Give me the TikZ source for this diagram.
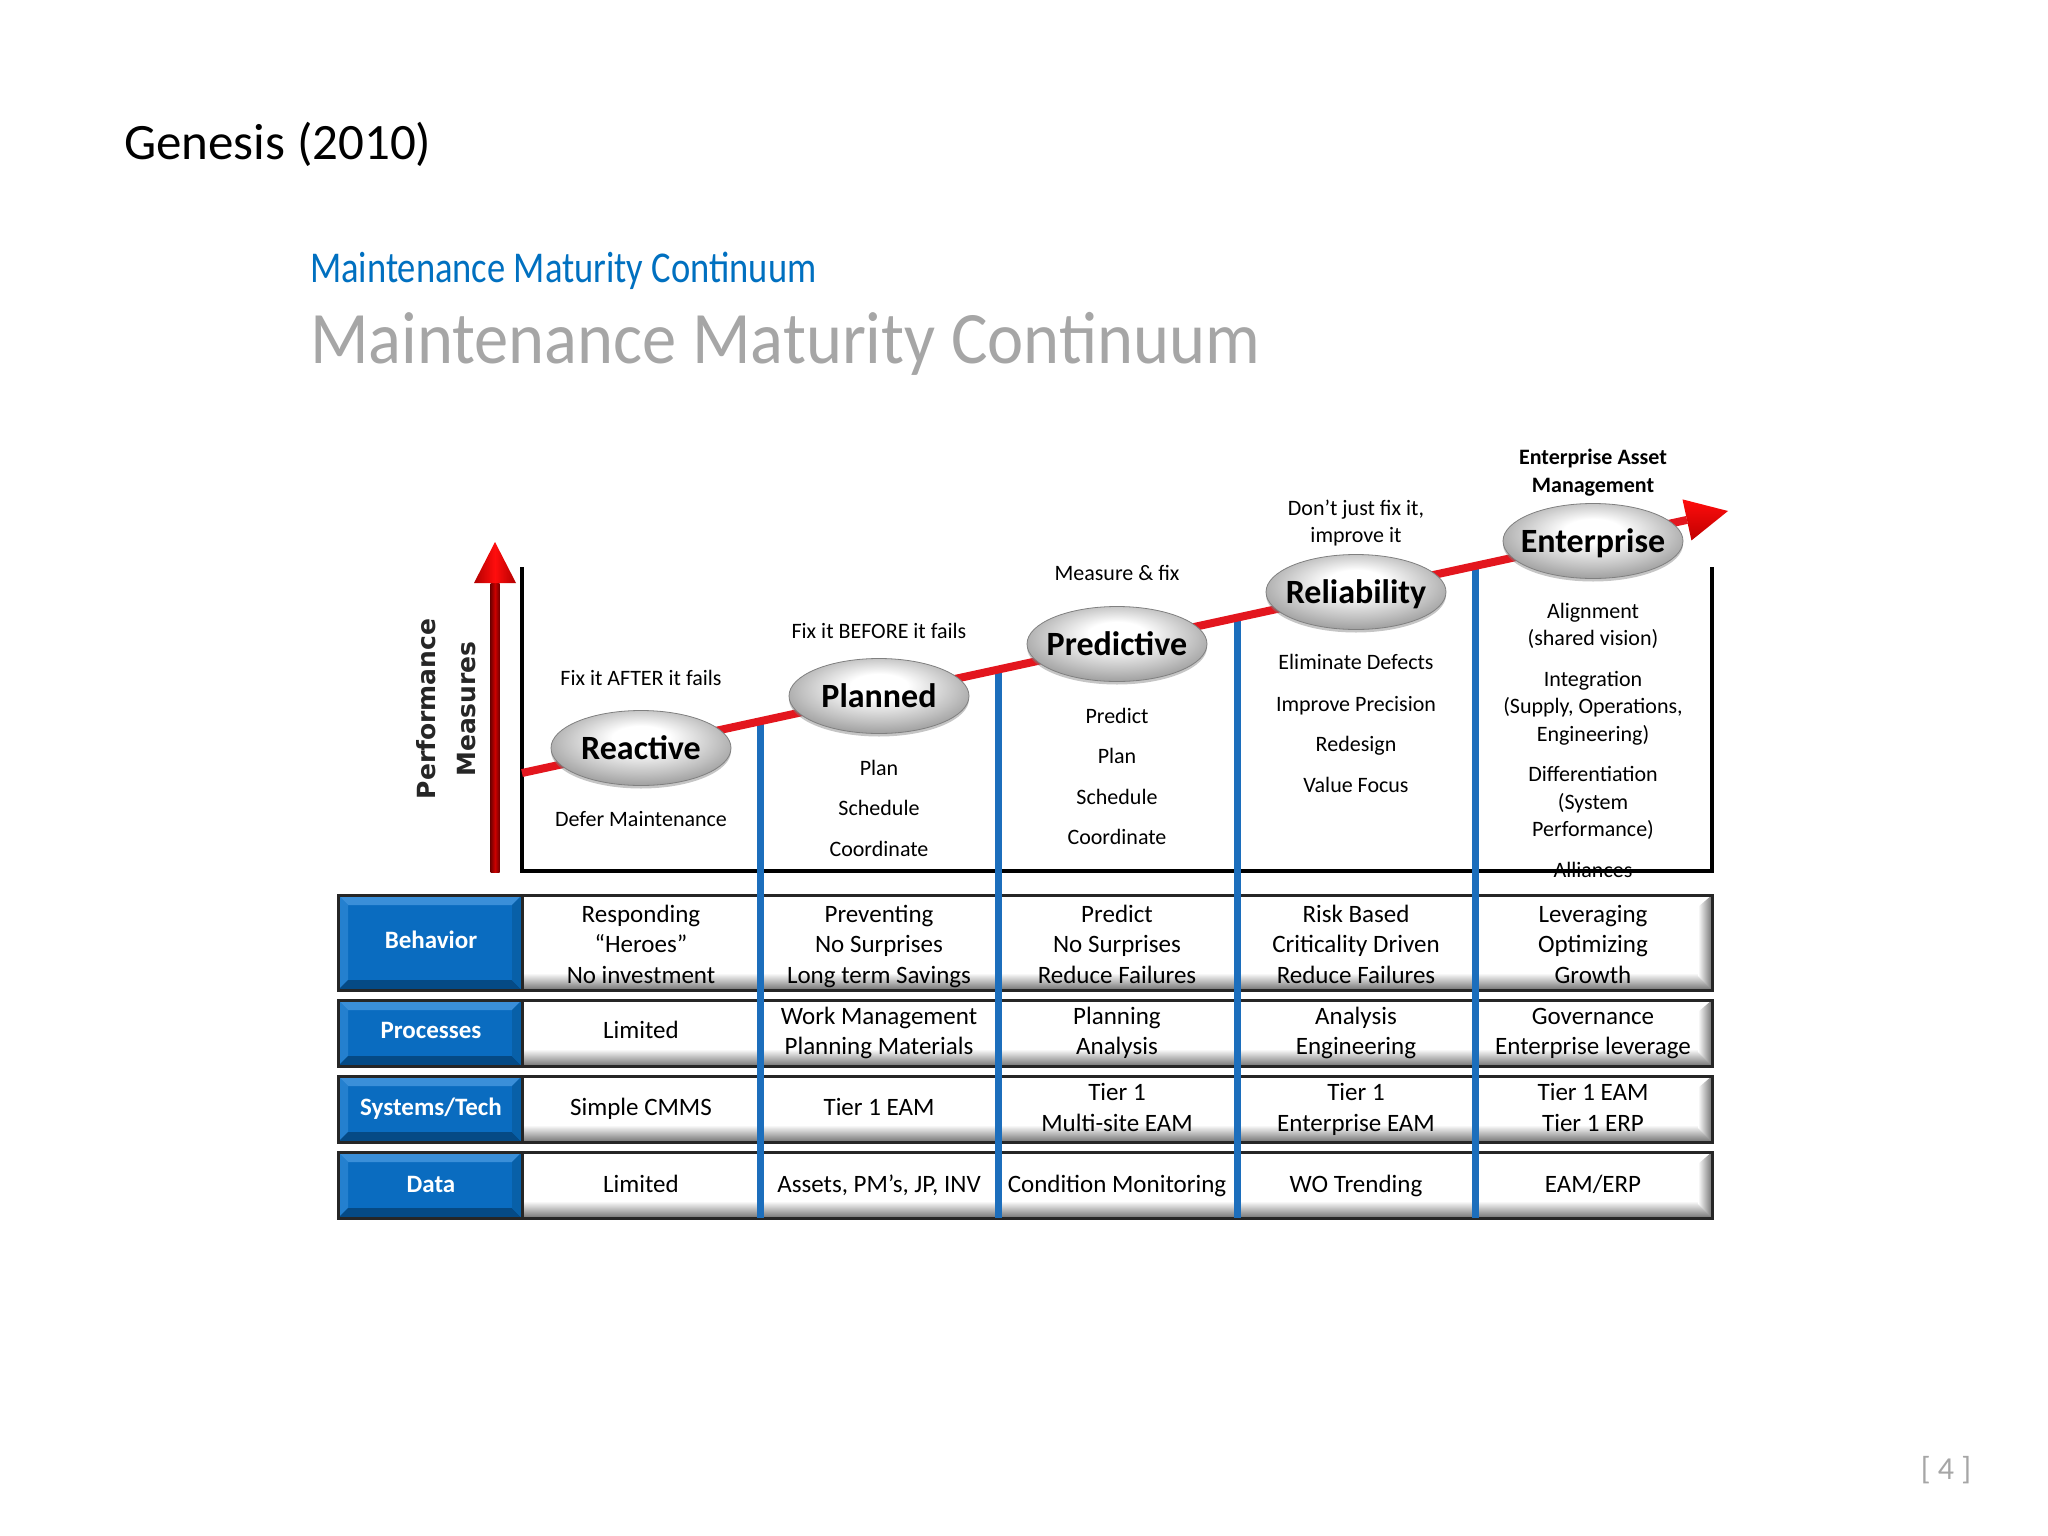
\documentclass[tikz,border=0pt]{standalone}
\usepackage{fontspec}
\setmainfont{Carlito}
\newfontfamily\pmfont{DejaVu Sans}
\usetikzlibrary{shapes.geometric,calc,shadows}
\definecolor{myblue}{HTML}{0A6CC0}
\definecolor{bevtop}{HTML}{3A8FD9}
\definecolor{bevleft}{HTML}{2480CF}
\definecolor{bevbot}{HTML}{054A85}
\definecolor{bevright}{HTML}{0860A8}
\definecolor{lineblue}{HTML}{1C6EBC}
\definecolor{titleblue}{HTML}{0070C0}
\definecolor{titlegray}{HTML}{A6A6A6}
\definecolor{arrred}{HTML}{E3161E}
\pgfdeclareradialshading{silver}{\pgfpoint{0bp}{8bp}}{color(0bp)=(white); color(8bp)=(white); color(22bp)=(black!25); color(36bp)=(black!52); color(50bp)=(black!72)}
\newcounter{tn}
\newcommand\tx[3]{\stepcounter{tn}\node[#1] (t\the\value{tn}) at (#2) {#3};}
\newcommand\labbox[2]{%
  \fill[myblue] (338,#1) rectangle (522,#2);
  \fill[bevtop] (338,#1) -- (522,#1) -- (512,#1+10) -- (348,#1+10) -- cycle;
  \fill[bevleft] (338,#1) -- (348,#1+10) -- (348,#2-10) -- (338,#2) -- cycle;
  \fill[bevbot] (338,#2) -- (348,#2-10) -- (512,#2-10) -- (522,#2) -- cycle;
  \fill[bevright] (522,#1) -- (512,#1+10) -- (512,#2-10) -- (522,#2) -- cycle;
  \draw[line width=3pt, black!85] (338,#1) rectangle (522,#2);}
\newcommand\cellrow[2]{%
  \fill[white] (522,#1) rectangle (1712,#2);
  \shade[top color=white, bottom color=black!55] (522,#2-17) rectangle (1712,#2);
  \shade[left color=white, right color=black!55] (1698,#1+12) -- (1712,#1) -- (1712,#2) -- (1698,#2-14) -- cycle;
  \draw[line width=3pt, black!85] (522,#1) rectangle (1712,#2);}
\begin{document}
\begin{tikzpicture}[x=1pt,y=-1pt,
  sm/.style={font=\fontsize{22}{26}\selectfont, inner sep=0pt, anchor=base},
  smb/.style={font=\bfseries\fontsize{22}{26}\selectfont, inner sep=0pt, anchor=base},
  cl/.style={font=\fontsize{25}{30}\selectfont, inner sep=0pt, anchor=base},
  lb/.style={font=\bfseries\fontsize{25}{30}\selectfont, text=white, inner sep=0pt, anchor=base},
  stage/.style={ellipse, minimum width=180pt, minimum height=75pt, inner sep=0pt,
    shade, shading=silver, draw=black!50, line width=0.8pt,
    font=\bfseries\fontsize{34}{40}\selectfont, text height=22pt, text depth=0pt,
    drop shadow={shadow xshift=0pt, shadow yshift=-3pt, opacity=0.45}},
  axisline/.style={line width=4pt, black},
  bline/.style={line width=7pt, lineblue}]
\useasboundingbox (0,0) rectangle (2048,1536);
\fill[white] (0,0) rectangle (2048,1536);

% titles
\node[anchor=base west, inner sep=0pt, font=\fontsize{51}{60}\selectfont] (genesis) at (124,160) {Genesis (2010)};
\node[anchor=base west, inner sep=0pt, xscale=0.83, font=\fontsize{44}{50}\selectfont, text=titleblue] (sub) at (310,282) {Maintenance Maturity Continuum};
\node[anchor=base west, inner sep=0pt, xscale=0.926, font=\fontsize{74}{80}\selectfont, text=titlegray] (title) at (310,363) {Maintenance Maturity Continuum};
\node[inner sep=0pt, anchor=base, font=\fontsize{32}{36}\selectfont, text=titlegray] (pagenum) at (1946,1479) {[ 4 ]};

% table rows
\labbox{895}{990}\cellrow{895}{990}
\labbox{1000}{1066}\cellrow{1000}{1066}
\labbox{1076}{1142}\cellrow{1076}{1142}
\labbox{1152}{1218}\cellrow{1152}{1218}

% axis
\coordinate (ax1) at (522,567);
\coordinate (ax2) at (522,871);
\coordinate (ax3) at (1712,871);
\coordinate (ax4) at (1712,567);
\draw[axisline] (ax1) -- (ax2) -- (ax3) -- (ax4);

% red diagonal geometry
\coordinate (rs) at (522,773);
\coordinate (rt) at (1728,511);
\coordinate (hb) at ($(rt)!42pt!(rs)$);

% blue column lines
\coordinate (bt1) at (760,721.3);  \coordinate (bb1) at (760,1218);
\coordinate (bt2) at (998,669.6);  \coordinate (bb2) at (998,1218);
\coordinate (bt3) at (1237,617.7); \coordinate (bb3) at (1237,1218);
\coordinate (bt4) at (1475,566.0); \coordinate (bb4) at (1475,1218);
\draw[bline] (bt1) -- (bb1);
\draw[bline] (bt2) -- (bb2);
\draw[bline] (bt3) -- (bb3);
\draw[bline] (bt4) -- (bb4);

% red diagonal arrow
\draw[arrred, line width=8pt] (rs) -- (hb);
\shade[top color=red!95!white, bottom color=red!75!black] (rt) -- ($(hb)!21pt!90:(rt)$) -- ($(hb)!21pt!-90:(rt)$) -- cycle;

% vertical red arrow
\coordinate (vb) at (495,872);
\coordinate (vh) at (495,583);
\coordinate (vt) at (495,542);
\shade[left color=red!45!black, right color=red!45!black, middle color=red!80!black] ($(vb)+(-4.5,0)$) rectangle ($(vh)+(4.5,0)$);
\shade[left color=red!70!black, right color=red!70!black, middle color=red!95!white] (vt) -- ($(vh)+(-21,0)$) -- ($(vh)+(21,0)$) -- cycle;

\node[rotate=90, align=center, inner sep=0pt, font=\pmfont\bfseries\fontsize{25}{40}\selectfont, text=black!85] (perf) at (446,709) {Performance\\Measures};

% stage ellipses
\node[stage] (reactive) at (641,748) {\makebox[0pt]{Reactive}};
\node[stage] (planned) at (879,696) {\makebox[0pt]{Planned}};
\node[stage] (predictive) at (1117,644) {\makebox[0pt]{Predictive}};
\node[stage] (reliability) at (1356,592) {\makebox[0pt]{Reliability}};
\node[stage] (enterprise) at (1593,541) {\makebox[0pt]{Enterprise}};

% texts above / below
\tx{sm}{641,685}{Fix it AFTER it fails}
\tx{sm}{879,638}{Fix it BEFORE it fails}
\tx{sm}{1117,580}{Measure \& fix}
\tx{sm}{1356,515}{Don’t just fix it,}
\tx{sm}{1356,542}{improve it}
\tx{smb}{1593,464}{Enterprise Asset}
\tx{smb}{1593,492}{Management}

\tx{sm}{641,826}{Defer Maintenance}

\tx{sm}{879,775}{Plan}
\tx{sm}{879,815.5}{Schedule}
\tx{sm}{879,856}{Coordinate}

\tx{sm}{1117,723}{Predict}
\tx{sm}{1117,763}{Plan}
\tx{sm}{1117,804}{Schedule}
\tx{sm}{1117,844}{Coordinate}

\tx{sm}{1356,669}{Eliminate Defects}
\tx{sm}{1356,711}{Improve Precision}
\tx{sm}{1356,751.5}{Redesign}
\tx{sm}{1356,792}{Value Focus}

\tx{sm}{1593,618}{Alignment}
\tx{sm}{1593,645.7}{(shared vision)}
\tx{sm}{1593,686}{Integration}
\tx{sm}{1593,713.6}{(Supply, Operations,}
\tx{sm}{1593,741}{Engineering)}
\tx{sm}{1593,781.5}{Differentiation}
\tx{sm}{1593,809}{(System}
\tx{sm}{1593,836}{Performance)}
\tx{sm}{1593,877}{Alliances}

% row labels
\tx{lb}{431,948}{Behavior}
\tx{lb}{431,1038}{Processes}
\tx{lb}{431,1115.5}{Systems/Tech}
\tx{lb}{431,1192.5}{Data}

% Behavior row
\tx{cl}{641,922}{Responding}
\tx{cl}{641,952.5}{“Heroes”}
\tx{cl}{641,983.5}{No investment}
\tx{cl}{879,922}{Preventing}
\tx{cl}{879,952.5}{No Surprises}
\tx{cl}{879,983.5}{Long term Savings}
\tx{cl}{1117,922}{Predict}
\tx{cl}{1117,952.5}{No Surprises}
\tx{cl}{1117,983.5}{Reduce Failures}
\tx{cl}{1356,922}{Risk Based}
\tx{cl}{1356,952.5}{Criticality Driven}
\tx{cl}{1356,983.5}{Reduce Failures}
\tx{cl}{1593,922}{Leveraging}
\tx{cl}{1593,952.5}{Optimizing}
\tx{cl}{1593,983.5}{Growth}

% Processes row
\tx{cl}{641,1038.5}{Limited}
\tx{cl}{879,1024}{Work Management}
\tx{cl}{879,1054}{Planning Materials}
\tx{cl}{1117,1024}{Planning}
\tx{cl}{1117,1054}{Analysis}
\tx{cl}{1356,1024}{Analysis}
\tx{cl}{1356,1054}{Engineering}
\tx{cl}{1593,1024}{Governance}
\tx{cl}{1593,1054}{Enterprise leverage}

% Systems row
\tx{cl}{641,1115.5}{Simple CMMS}
\tx{cl}{879,1115.5}{Tier 1 EAM}
\tx{cl}{1117,1100}{Tier 1}
\tx{cl}{1117,1131}{Multi-site EAM}
\tx{cl}{1356,1100}{Tier 1}
\tx{cl}{1356,1131}{Enterprise EAM}
\tx{cl}{1593,1100}{Tier 1 EAM}
\tx{cl}{1593,1131}{Tier 1 ERP}

% Data row
\tx{cl}{641,1192.5}{Limited}
\tx{cl}{879,1192.5}{Assets, PM’s, JP, INV}
\tx{cl}{1117,1192.5}{Condition Monitoring}
\tx{cl}{1356,1192.5}{WO Trending}
\tx{cl}{1593,1192.5}{EAM/ERP}
\end{tikzpicture}
\end{document}
